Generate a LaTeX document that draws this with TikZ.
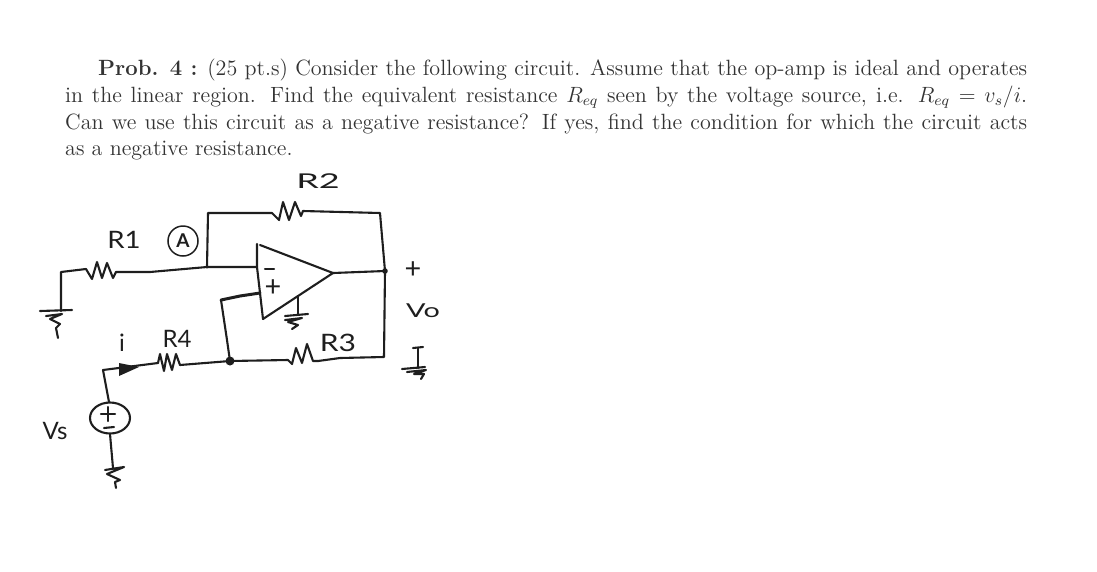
\documentclass[tikz,border=0pt]{standalone}
\usepackage{graphicx}
\usepackage{fontspec}
\setsansfont{Lato}
\definecolor{inkc}{HTML}{1E1E1E}
\definecolor{printc}{HTML}{333333}
\newcommand{\bigline}[1]{\scalebox{1.84}{\fontsize{12}{14}\selectfont #1}}
\tikzset{
  wire/.style={draw=inkc,line width=2.1pt,line cap=round,line join=round},
  heavy/.style={draw=inkc,line width=3pt,line cap=round,line join=round},
  printline/.style={anchor=base west,inner sep=0pt,text=printc},
  hand/.style={inner sep=0pt,text=inkc,font=\sffamily\fontsize{24}{24}\selectfont},
}
\begin{document}
\begin{tikzpicture}[x=1pt,y=-1pt]
\useasboundingbox (0,0) rectangle (1097,571);
% printed text
\node[printline] (l1) at (98,75) {\bigline{\hbox to 504.9pt{\textbf{Prob. 4 :} (25 pt.s) Consider the following circuit. Assume that the op-amp is ideal and operates}}};
\node[printline] (l2) at (65,102) {\bigline{\hbox to 522.8pt{in the linear region. Find the equivalent resistance $R_{eq}$ seen by the voltage source, i.e. $R_{eq}=v_s/i$.}}};
\node[printline] (l3) at (65,129) {\bigline{\hbox to 522.8pt{Can we use this circuit as a negative resistance? If yes, find the condition for which the circuit acts}}};
\node[printline] (l4) at (65,155) {\bigline{as a negative resistance.}};
% key points
\coordinate (gndL) at (61,311);
\coordinate (cornerL) at (61,272);
\coordinate (r1a) at (86,269);
\coordinate (r1b) at (116,272);
\coordinate (jA) at (207,267);
\coordinate (inN) at (257,267);
\coordinate (fbTL) at (208,213);
\coordinate (r2a) at (272,213);
\coordinate (r2b) at (303,211);
\coordinate (fbTR) at (380,213);
\coordinate (jO) at (385,271);
\coordinate (tip) at (333,273);
\coordinate (ampT) at (257,244);
\coordinate (ampB) at (263,319);
\coordinate (inP) at (260,293);
\coordinate (cornerP) at (221,300);
\coordinate (jB) at (230,361);
\coordinate (brR) at (384,357);
\coordinate (r3b) at (318,361);
\coordinate (r3a) at (288,360);
\coordinate (r4b) at (180,365);
\coordinate (r4a) at (158,363);
\coordinate (cornerS) at (103,370);
\coordinate (srcT) at (109,402);
\coordinate (srcB) at (110,434);
\coordinate (gndS) at (113,468);
\coordinate (gndA) at (298,314);
\coordinate (ampG) at (298,297);
% wires
\draw[wire] (gndL) -- (cornerL) -- (r1a);
\draw[wire] (r1a) -- (92,279) -- (97,262) -- (102,278) -- (107,263) -- (113,278) -- (r1b) ;
\draw[wire] (r1b) -- (150,272) -- (jA) -- (inN);
\draw[wire] (jA) -- (fbTL) -- (r2a);
\draw[wire] (r2a) -- (279,220) -- (283,202) -- (289,220) -- (295,202) -- (301,216) -- (r2b);
\draw[wire] (r2b) -- (fbTR) -- (jO);
\draw[wire] (tip) -- (jO) -- (brR) -- (340,358) -- (r3b);
\draw[wire] (r3b) -- (313,361) -- (307,344) -- (302,363) -- (296,348) -- (292,364) -- (r3a);
\draw[wire] (r3a) -- (jB) -- (r4b);
\draw[wire] (r4b) -- (176,354) -- (172,370) -- (167,354) -- (164,371) -- (160,354) -- (r4a);
\draw[wire] (r4a) -- (cornerS) -- (srcT);
\draw[wire] (srcB) -- (gndS);
% op-amp
\draw[wire] (ampT) -- (inN) -- (inP) -- (ampB);
\draw[wire] (260,245) -- (tip) -- (ampB);
\draw[heavy] (inP) -- (240,296) -- (cornerP);
\draw[wire] (cornerP) -- (227,340) -- (jB);
\draw[wire] (ampG) -- (gndA);
\fill[inkc] (jB) circle (4.5pt);
\fill[inkc] (jO) circle (2.8pt);
\fill[inkc] (jA) circle (1.5pt);
% arrow
\fill[inkc] (119,363) -- (139,367) -- (119,376) -- cycle;
% source
\draw[wire] (110,418) ellipse (20pt and 15.5pt);
\draw[wire] (101,414) -- (115,414);
\draw[wire] (108,407) -- (108,421);
\draw[wire] (104,428) -- (114,427);
% grounds
\draw[wire] (40,311) -- (72,310);
\draw[wire] (46,316) -- (62,314) -- (50,319) -- (60,324) -- (56,328) -- (58,338);
\draw[wire] (285,316) -- (308,314);
\draw[wire] (285,320) -- (302,318) -- (288,322) -- (298,325) -- (292,329);
\draw[wire] (105,470) -- (124,467) -- (107,474) -- (120,480) -- (115,482) -- (116,488);
\draw[wire] (413,348) -- (423,347);
\draw[wire] (418,348) -- (418,368);
\draw[wire] (402,369) -- (425,367);
\draw[wire] (407,372) -- (426,370) -- (414,374) -- (424,374) -- (421,379);
% labels
\node[hand,xscale=1.15] (lR1) at (124,240) {R1};
\node[hand,xscale=1.5,yscale=0.85] (lR2) at (318,181) {R2};
\node[hand,xscale=1.25] (lR3) at (338,343) {R3};
\node[hand] (lR4) at (177,339) {R4};
\node[hand] (li) at (122,343) {i};
\node[hand] (lVs) at (55,431) {Vs};
\node[hand,xscale=1.2,yscale=0.8] (lVo) at (423,311) {Vo};
\node[hand,scale=1.2] (lP) at (413,270) {+};
\node[hand,scale=1.2] (lIn) at (273,288) {+};
\draw[wire] (265,269) -- (274,269);
\node[inner sep=0pt,text=inkc,draw=inkc,line width=1.5pt,circle,minimum size=30pt,font=\sffamily\bfseries\fontsize{19}{19}\selectfont] (lA) at (183,241) {A};
\end{tikzpicture}
\end{document}
